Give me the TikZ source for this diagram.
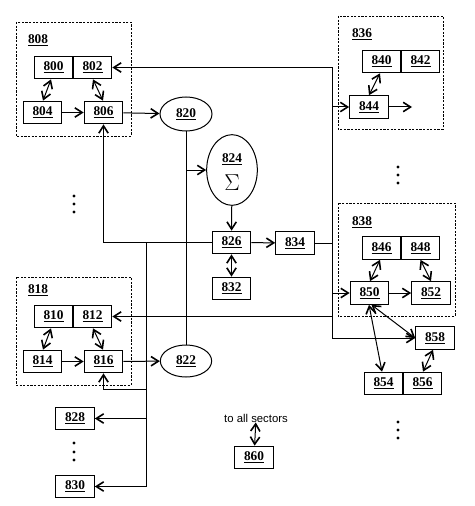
\documentclass[tikz,border=0pt]{standalone}
\usepackage{fontspec}
\setmainfont{Liberation Serif}
\newfontfamily\arialfont{Liberation Sans}
\usetikzlibrary{arrows.meta,shapes.geometric,calc}
\newcommand\numlbl[1]{\underline{\textbf{#1}}}
\tikzset{
  base/.style={line width=0.75pt},
  box/.style={base,draw,rectangle,minimum width=29pt,minimum height=17pt,inner sep=0pt,font=\fontsize{10}{12}\selectfont},
  ell/.style={base,draw,ellipse,inner sep=0pt,font=\fontsize{10}{12}\selectfont},
  group/.style={line width=0.6pt,dash pattern=on 1.6pt off 1.1pt},
  grplbl/.style={font=\fontsize{10}{12}\selectfont,inner sep=0pt},
  tip/.tip={Straight Barb[length=5.5pt,width=7pt,line width=1.2pt]},
  conn/.style={base,-tip},
  dconn/.style={base,tip-tip},
  wire/.style={base},
}
\begin{document}
\begin{tikzpicture}[x=0.75pt,y=-0.75pt]
\useasboundingbox (0,0) rectangle (474,506);
% group frames
\draw[group] (16,22) rectangle (131,136);
\node[grplbl] (l808) at (38,40) {\numlbl{808}};
\draw[group] (16,277) rectangle (131,385);
\node[grplbl] (l818) at (38,290) {\numlbl{818}};
\draw[group] (338,16) rectangle (443,129);
\node[grplbl] (l836) at (362,34) {\numlbl{836}};
\draw[group] (338,203) rectangle (455,316);
\node[grplbl] (l838) at (362,222) {\numlbl{838}};
% sector 808
\node[box] (800) at (53.5,67.5) {\numlbl{800}};
\node[box] (802) at (92.5,67.5) {\numlbl{802}};
\node[box] (804) at (42.5,112.5) {\numlbl{804}};
\node[box] (806) at (103.5,112.5) {\numlbl{806}};
% sector 818
\node[box] (810) at (53.5,316.5) {\numlbl{810}};
\node[box] (812) at (92.5,316.5) {\numlbl{812}};
\node[box] (814) at (42.5,361.5) {\numlbl{814}};
\node[box] (816) at (103.5,361.5) {\numlbl{816}};
% middle
\node[ell,minimum width=39pt,minimum height=25.5pt] (820) at (186,114) {\numlbl{820}};
\node[ell,minimum width=38.5pt,minimum height=24pt] (822) at (186,361) {\numlbl{822}};
\node[ell,minimum width=38pt,minimum height=53pt] (824) at (232,170) {};
\node[grplbl] (l824) at (232,159) {\numlbl{824}};
\node[inner sep=0pt,font=\fontsize{17}{17}\selectfont] (sig) at (232,183) {$\Sigma$};
\node[box] (826) at (231.5,242.5) {\numlbl{826}};
\node[box] (832) at (231.5,288.5) {\numlbl{832}};
\node[box] (834) at (295,243) {\numlbl{834}};
\node[box] (828) at (75,418.5) {\numlbl{828}};
\node[box] (830) at (75,486.5) {\numlbl{830}};
\node[box] (860) at (254,457.5) {\numlbl{860}};
\node[inner sep=0pt,font=\arialfont\fontsize{8.5}{10}\selectfont] (sect) at (256,418) {to all sectors};
% sector 836
\node[box] (840) at (381.5,61.5) {\numlbl{840}};
\node[box] (842) at (420.5,61.5) {\numlbl{842}};
\node[box] (844) at (369,107) {\numlbl{844}};
\coordinate (o844) at (412,107);
% sector 838
\node[box] (846) at (381.5,248) {\numlbl{846}};
\node[box] (848) at (420.5,248) {\numlbl{848}};
\node[box] (850) at (369.5,293) {\numlbl{850}};
\node[box] (852) at (431,293) {\numlbl{852}};
\node[box] (858) at (435,338) {\numlbl{858}};
\node[box] (854) at (383.5,383.5) {\numlbl{854}};
\node[box] (856) at (422.5,383.5) {\numlbl{856}};
% bus coordinates
\coordinate (bR) at (332,0);
\coordinate (bL) at (146,242.5);
\coordinate (y816) at (0,389);
% connectors inside sectors
\draw[dconn] ($(800.south)+(-2.5,0)$) -- ($(804.north)+(0.5,0)$);
\draw[dconn] ($(802.south)+(0.5,0)$) -- ($(806.north)+(-0.5,0)$);
\draw[conn] (804) -- (806);
\draw[dconn] ($(810.south)+(-2.5,0)$) -- ($(814.north)+(0.5,0)$);
\draw[dconn] ($(812.south)+(0.5,0)$) -- ($(816.north)+(-0.5,0)$);
\draw[conn] (814) -- (816);
\draw[dconn] ($(840.south)+(-1.5,0)$) -- (844.north);
\draw[conn] (844) -- (o844);
\draw[dconn] ($(846.south)+(-1.5,0)$) -- ($(850.north)+(0.5,0)$);
\draw[dconn] ($(848.south)+(0,0)$) -- (852.north);
\draw[conn] (850) -- (852);
\draw[dconn] ($(850.south)+(-0.5,0)$) -- ($(854.north)+(-1.5,0)$);
\draw[dconn] ($(850.south)+(2,0)$) -- (858.west);
\draw[dconn] ($(858.south)+(-2,0)$) -- ($(856.north)+(0.5,0)$);
% middle connectors
\draw[conn] (806) -- (820);
\draw[conn] (816) -- (822);
\draw[wire] (820) -- (822);
\draw[conn] (820.south |- 824.west) -- (824.west);
\draw[conn] (824) -- (826);
\draw[conn] (826) -- (834);
\draw[dconn] (826) -- (832);
\draw[conn] (826.west) -| (806.south);
\draw[conn] (bL) |- (830.east);
\draw[conn] (bL |- 828.east) -- (828.east);
\draw[conn] (bL |- y816) -| (816.south);
% right bus
\draw[wire] (834.east) -- (bR |- 834.east);
\draw[conn] (bR |- 858.west) |- (802.east);
\draw[conn] (bR |- 858.west) -- (858.west);
\draw[conn] (bR |- 844.west) -- (844.west);
\draw[conn] (bR |- 850.west) -- (850.west);
\draw[conn] (bR |- 812.east) -- (812.east);
\draw[dconn] (860) -- (sect);
% ellipsis dots
\foreach \p in {(74,196),(74,204),(74,212),(398,167),(398,175),(398,183),(398,422),(398,430),(398,438),(74,443),(74,452),(74,460)}
  \fill \p circle (1.6);
\end{tikzpicture}
\end{document}
